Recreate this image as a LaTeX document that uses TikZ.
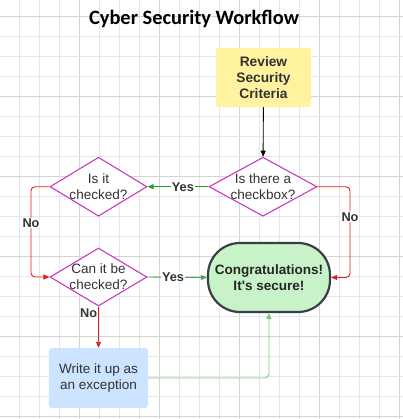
\documentclass[tikz,border=0pt]{standalone}
\usepackage{fontspec}
\setmainfont{Liberation Sans}
\newfontfamily\titlefont{Carlito}
\usetikzlibrary{arrows.meta, positioning, shapes.geometric}
\definecolor{gridminor}{RGB}{230,230,230}
\definecolor{gridmajor}{RGB}{212,212,212}
\definecolor{reviewyellow}{RGB}{255,243,160}
\definecolor{exceptblue}{RGB}{204,228,255}
\definecolor{securegreen}{RGB}{200,242,200}
\definecolor{secureborder}{RGB}{58,62,72}
\definecolor{askmagenta}{RGB}{200,60,190}
\definecolor{nored}{RGB}{224,32,32}
\definecolor{yesgreen}{RGB}{34,160,34}
\definecolor{yesmuted}{RGB}{76,158,92}
\definecolor{donegreen}{RGB}{124,200,124}
\definecolor{textgray}{RGB}{51,51,51}

\tikzset{
  question/.style={diamond, aspect=1.75, draw=askmagenta, line width=1.1bp, fill=white,
    inner sep=-2bp, align=center, text=textgray, font=\fontsize{13.6}{16}\selectfont},
  taskbox/.style={rectangle, rounded corners=3bp, align=center, text=textgray,
    font=\fontsize{13.6}{16}\selectfont},
  flow/.style={line width=0.9bp, rounded corners=4bp,
    -{Triangle[length=6bp, width=5bp]}},
  answer/.style={fill=white, inner sep=1bp, text=textgray,
    font=\fontsize{12.8}{14}\selectfont\bfseries}
}

\begin{document}
\begin{tikzpicture}[x=1bp, y=-1bp]
    \useasboundingbox (0,0) rectangle (403,419);
    % background grid, darker every fourth line
    \foreach \k in {0,...,19} {
      \pgfmathtruncatemacro{\major}{mod(\k,4)}
      \ifnum\major=3
        \draw[gridmajor, line width=0.6bp] (19.5+\k*20, 0) -- (19.5+\k*20, 419);
      \else
        \draw[gridminor, line width=0.6bp] (19.5+\k*20, 0) -- (19.5+\k*20, 419);
      \fi
    }
    \foreach \k in {0,...,20} {
      \pgfmathtruncatemacro{\major}{mod(\k,4)}
      \ifnum\major=0
        \draw[gridmajor, line width=0.6bp] (0, 16.7+\k*20) -- (403, 16.7+\k*20);
      \else
        \draw[gridminor, line width=0.6bp] (0, 16.7+\k*20) -- (403, 16.7+\k*20);
      \fi
    }

    % title
    \node[anchor=base, font=\titlefont\fontsize{20.5}{24}\selectfont\bfseries]
      (title) at (194, 24.5) {Cyber Security Workflow};

    % steps
    \node[taskbox, fill=reviewyellow, rounded corners=2bp, minimum width=95bp,
      minimum height=59bp, font=\fontsize{13.8}{16}\selectfont\bfseries]
      (review) at (263.5, 77.5) {Review\\Security\\Criteria};
    \node[question, minimum width=108bp, minimum height=59bp]
      (hasbox) at (263, 186.7) {Is there a\\checkbox?};
    \node[question, minimum width=97bp, minimum height=59bp]
      (ischecked) at (98.5, 186.7) {Is it\\checked?};
    \node[question, minimum width=97bp, minimum height=58bp]
      (canbe) at (98.5, 277) {Can it be\\checked?};
    \node[taskbox, draw=secureborder, line width=2.2bp, fill=securegreen,
      rounded corners=32bp, minimum width=122bp, minimum height=69bp,
      font=\fontsize{13.6}{16}\selectfont\bfseries, text=black!85]
      (secure) at (269, 277.5) {Congratulations!\\It\textquotesingle s secure!};
    \node[taskbox, fill=exceptblue, minimum width=99bp, minimum height=60bp]
      (exception) at (98.5, 378) {Write it up as\\an exception};

    % connectors
    \draw[flow, black] (review) -- (hasbox);
    \draw[flow, yesgreen] (hasbox.west) -- node[answer, pos=0.42] (yes1) {Yes} (ischecked.east);
    \draw[flow, nored] (hasbox.east) -| (350, 216.7)
      node[answer] (no1) {No} |- (secure.east);
    \draw[flow, nored] (ischecked.west) -| (31, 223)
      node[answer] (no2) {No} |- (canbe.west);
    \draw[flow, yesmuted] (canbe.east) -- node[answer, pos=0.43] (yes2) {Yes} (secure.west);
    \draw[flow, nored] (canbe.south) -- node[answer, pos=0.17, left, fill=none] (no3) {No} (exception.north);
    \draw[flow, donegreen] (exception.east) -| (secure.south);
\end{tikzpicture}
\end{document}
